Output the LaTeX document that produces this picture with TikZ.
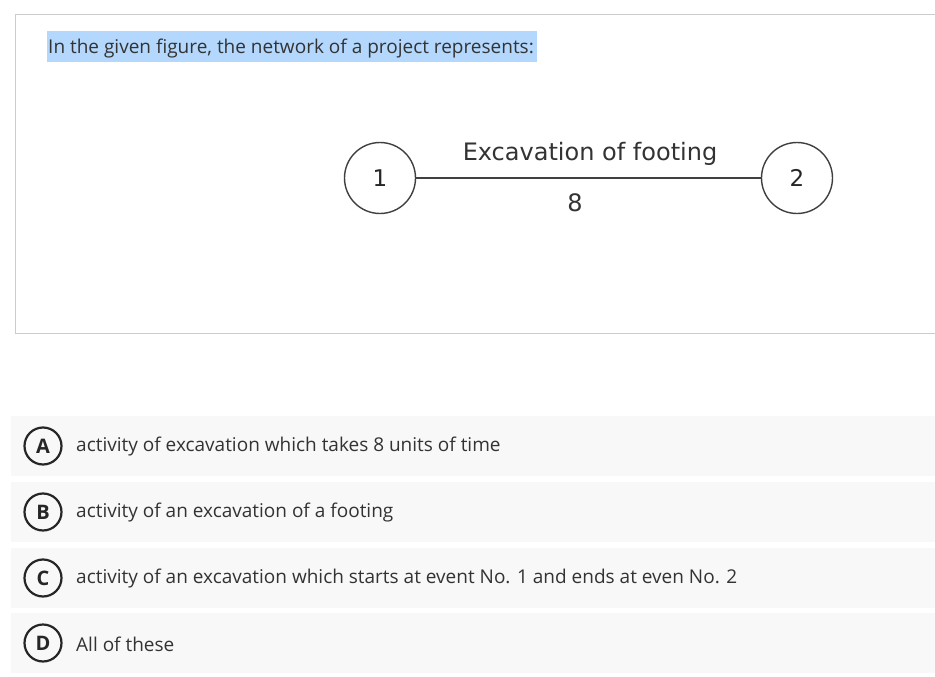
\documentclass[tikz,border=0pt]{standalone}
\usepackage{fontspec}
\setmainfont{Open Sans}
\newfontfamily\verd{DejaVu Sans}
\definecolor{txt}{HTML}{333333}
\definecolor{hl}{HTML}{B3D7FD}
\definecolor{optbg}{HTML}{F8F8F8}
\definecolor{frame}{HTML}{CCCCCC}
\begin{document}
\begin{tikzpicture}[x=1pt,y=-1pt,
  event/.style={circle,draw=black!75,line width=1.4pt,minimum size=71pt,inner sep=0pt,font=\verd\fontsize{23}{26}\selectfont,text=black!85},
  lbl/.style={font=\verd\fontsize{24}{28}\selectfont,text=txt,inner sep=0pt,anchor=base},
  optbox/.style={fill=optbg,draw=none},
  badge/.style={circle,draw=black!85,line width=2.2pt,minimum size=37pt,inner sep=0pt,font=\bfseries\fontsize{20}{22}\selectfont,text=black!85},
  opttext/.style={anchor=west,inner sep=0pt,font=\fontsize{19}{22}\selectfont,text=txt}
]
\useasboundingbox (0,0) rectangle (935,677);
\fill[white] (0,0) rectangle (935,677);
% question frame
\draw[frame,line width=1pt] (936,14.5) -- (15.5,14.5) -- (15.5,333) -- (936,333);
\fill[hl] (47,31) rectangle (537,62);
\node[anchor=base west,inner sep=0pt,font=\fontsize{19}{22}\selectfont,text=txt] (q) at (48,53.5) {In the given figure, the network of a project represents:};
% network
\node[event] (e1) at (380,178) {1};
\node[event] (e2) at (797,178) {2};
\draw[black!75,line width=1.8pt] (e1) -- (e2);
\node[lbl] (act) at (590,160) {Excavation of footing};
\node[lbl] (dur) at (575,211) {8};
% options
\fill[optbox] (11,416) rectangle (935,476);
\fill[optbox] (11,482) rectangle (935,542);
\fill[optbox] (11,548) rectangle (935,608);
\fill[optbox] (11,613) rectangle (935,673);
\node[badge] (ba) at (43,446) {A};
\node[badge] (bb) at (43,512) {B};
\node[badge] (bc) at (43,578) {C};
\node[badge] (bd) at (43,643) {D};
\node[opttext] (ta) at (76,447) {activity of excavation which takes 8 units of time};
\node[opttext] (tb) at (76,513) {activity of an excavation of a footing};
\node[opttext] (tc) at (76,579) {activity of an excavation which starts at event No. 1 and ends at even No. 2};
\node[opttext] (td) at (76,644) {All of these};
\end{tikzpicture}
\end{document}
